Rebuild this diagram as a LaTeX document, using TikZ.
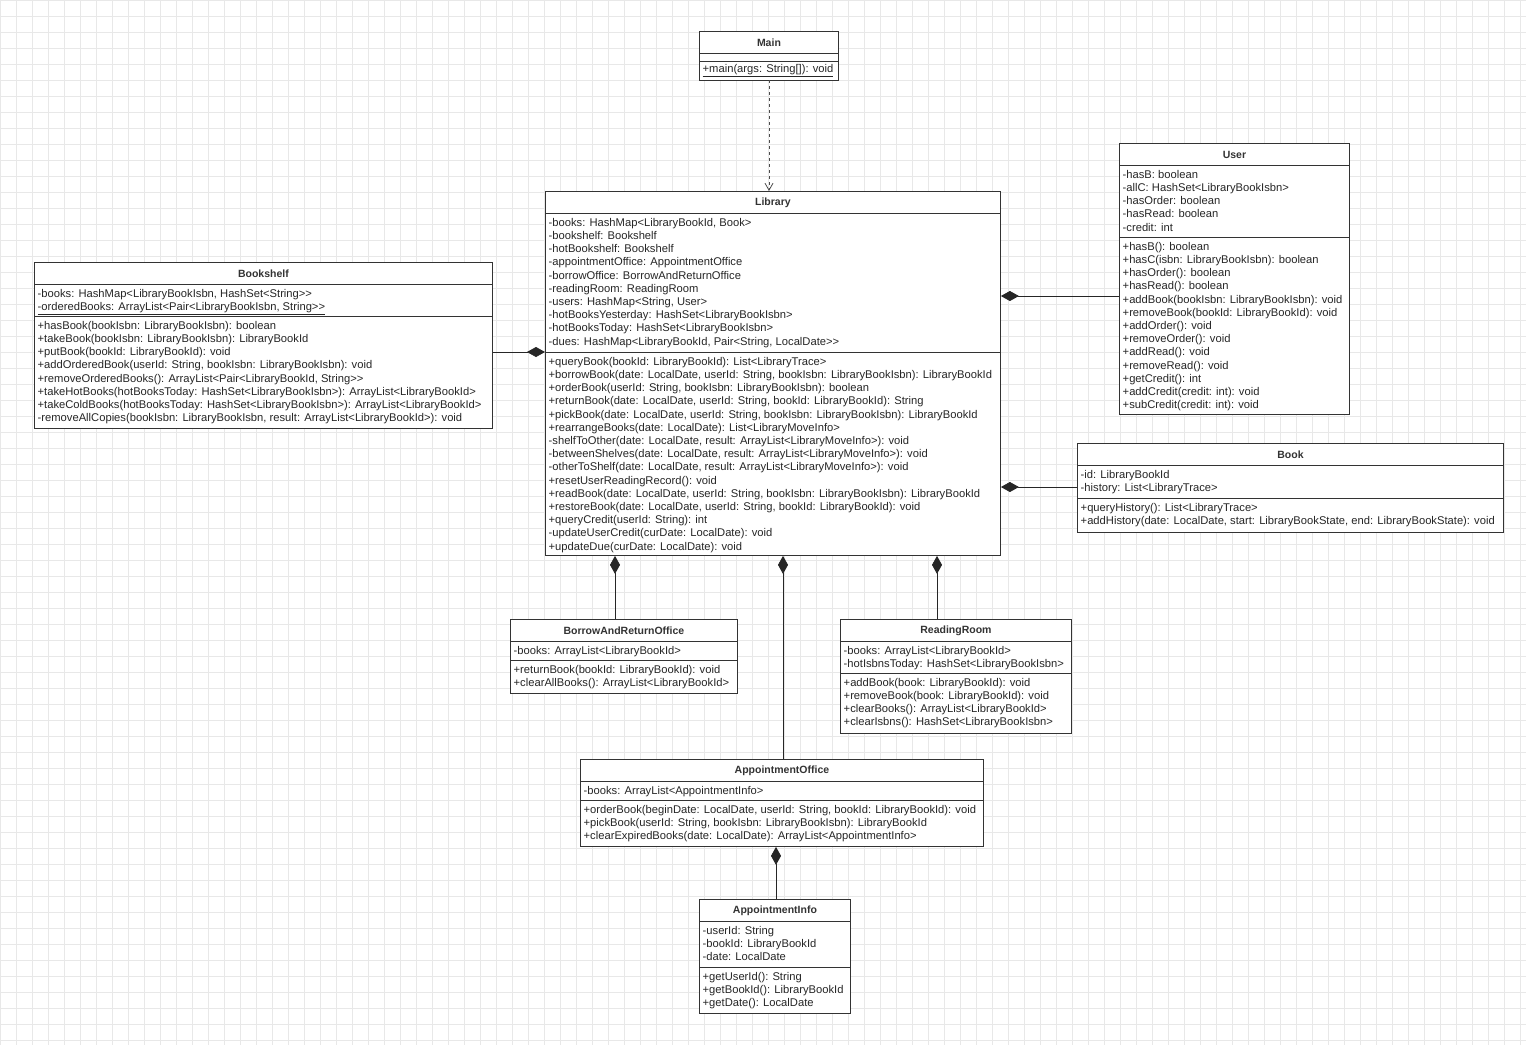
\documentclass[tikz,border=0pt]{standalone}
\usepackage{fontspec}
\setmainfont{Liberation Sans}
\usetikzlibrary{arrows.meta}
\tikzset{
  box/.style={draw=black!80,line width=0.9pt,fill=white,inner sep=0pt,anchor=north west},
  ttl/.style={font=\fontsize{10.5}{12}\selectfont\bfseries,text=black!80,anchor=center},
  txt/.style={font=\fontsize{11.2}{13.2}\selectfont,text=black!85,align=left,anchor=north west,inner xsep=3.5pt,inner ysep=5pt},
  comp/.style={draw=black!85,line width=0.8pt,{Diamond[length=18pt,width=10pt]}-},
  dep/.style={draw=black!70,line width=0.8pt,dashed,-{Straight Barb[length=7pt,width=8pt]}},
}
% name, x1, x2, ytitle, yattr, ymeth, ybottom, title
\newcommand\umlbox[8]{%
  \node[box,minimum width={#3-#2},minimum height={#5-#4}] (#1t) at (#2,#4) {};
  \node[ttl] at (#1t.center) {#8};
  \node[box,minimum width={#3-#2},minimum height={#6-#5}] (#1a) at (#2,#5) {};
  \node[box,minimum width={#3-#2},minimum height={#7-#6}] (#1m) at (#2,#6) {};
}
\newcommand\umltxt[3]{%
  \node[txt] at (#1a.north west) {#2};
  \node[txt] at (#1m.north west) {#3};
}
\begin{document}
\begin{tikzpicture}[x=1pt,y=-1pt]
\useasboundingbox (0,0) rectangle (1526,1045);
\fill[white] (0,0) rectangle (1526,1045);
\foreach \i in {0,16,...,1526} \draw[black!9] (\i,0) -- (\i,1045);
\foreach \i in {0,16,...,1045} \draw[black!9] (0,\i) -- (1526,\i);

\umlbox{main}{699}{838}{31}{53}{61}{80}{Main}
\node[txt,inner ysep=3pt] at (mainm.north west) {\underline{+main(args: String[]): void}};

\umlbox{lib}{545}{1000}{191}{213}{352}{555}{Library}
\umltxt{lib}{-books: HashMap<LibraryBookId, Book>\\-bookshelf: Bookshelf\\-hotBookshelf: Bookshelf\\-appointmentOffice: AppointmentOffice\\-borrowOffice: BorrowAndReturnOffice\\-readingRoom: ReadingRoom\\-users: HashMap<String, User>\\-hotBooksYesterday: HashSet<LibraryBookIsbn>\\-hotBooksToday: HashSet<LibraryBookIsbn>\\-dues: HashMap<LibraryBookId, Pair<String, LocalDate>{}>}{+queryBook(bookId: LibraryBookId): List<LibraryTrace>\\+borrowBook(date: LocalDate, userId: String, bookIsbn: LibraryBookIsbn): LibraryBookId\\+orderBook(userId: String, bookIsbn: LibraryBookIsbn): boolean\\+returnBook(date: LocalDate, userId: String, bookId: LibraryBookId): String\\+pickBook(date: LocalDate, userId: String, bookIsbn: LibraryBookIsbn): LibraryBookId\\+rearrangeBooks(date: LocalDate): List<LibraryMoveInfo>\\-shelfToOther(date: LocalDate, result: ArrayList<LibraryMoveInfo>): void\\-betweenShelves(date: LocalDate, result: ArrayList<LibraryMoveInfo>): void\\-otherToShelf(date: LocalDate, result: ArrayList<LibraryMoveInfo>): void\\+resetUserReadingRecord(): void\\+readBook(date: LocalDate, userId: String, bookIsbn: LibraryBookIsbn): LibraryBookId\\+restoreBook(date: LocalDate, userId: String, bookId: LibraryBookId): void\\+queryCredit(userId: String): int\\-updateUserCredit(curDate: LocalDate): void\\+updateDue(curDate: LocalDate): void}

\umlbox{user}{1119}{1349}{143}{165}{237}{414}{User}
\umltxt{user}{-hasB: boolean\\-allC: HashSet<LibraryBookIsbn>\\-hasOrder: boolean\\-hasRead: boolean\\-credit: int}{+hasB(): boolean\\+hasC(isbn: LibraryBookIsbn): boolean\\+hasOrder(): boolean\\+hasRead(): boolean\\+addBook(bookIsbn: LibraryBookIsbn): void\\+removeBook(bookId: LibraryBookId): void\\+addOrder(): void\\+removeOrder(): void\\+addRead(): void\\+removeRead(): void\\+getCredit(): int\\+addCredit(credit: int): void\\+subCredit(credit: int): void}

\umlbox{shelf}{34}{492}{262}{284}{316}{428}{Bookshelf}
\umltxt{shelf}{-books: HashMap<LibraryBookIsbn, HashSet<String>{}>\\\underline{-orderedBooks: ArrayList<Pair<LibraryBookIsbn, String>{}>}}{+hasBook(bookIsbn: LibraryBookIsbn): boolean\\+takeBook(bookIsbn: LibraryBookIsbn): LibraryBookId\\+putBook(bookId: LibraryBookId): void\\+addOrderedBook(userId: String, bookIsbn: LibraryBookIsbn): void\\+removeOrderedBooks(): ArrayList<Pair<LibraryBookId, String>{}>\\+takeHotBooks(hotBooksToday: HashSet<LibraryBookIsbn>): ArrayList<LibraryBookId>\\+takeColdBooks(hotBooksToday: HashSet<LibraryBookIsbn>): ArrayList<LibraryBookId>\\-removeAllCopies(bookIsbn: LibraryBookIsbn, result: ArrayList<LibraryBookId>): void}

\umlbox{book}{1077}{1503}{443}{465}{498}{532}{Book}
\umltxt{book}{-id: LibraryBookId\\-history: List<LibraryTrace>}{+queryHistory(): List<LibraryTrace>\\+addHistory(date: LocalDate, start: LibraryBookState, end: LibraryBookState): void}

\umlbox{bro}{510}{737}{619}{641}{660}{693}{BorrowAndReturnOffice}
\umltxt{bro}{-books: ArrayList<LibraryBookId>}{+returnBook(bookId: LibraryBookId): void\\+clearAllBooks(): ArrayList<LibraryBookId>}

\umlbox{room}{840}{1071}{619}{641}{673}{733}{ReadingRoom}
\umltxt{room}{-books: ArrayList<LibraryBookId>\\-hotIsbnsToday: HashSet<LibraryBookIsbn>}{+addBook(book: LibraryBookId): void\\+removeBook(book: LibraryBookId): void\\+clearBooks(): ArrayList<LibraryBookId>\\+clearIsbns(): HashSet<LibraryBookIsbn>}

\umlbox{ao}{580}{983}{759}{781}{800}{846}{AppointmentOffice}
\umltxt{ao}{-books: ArrayList<AppointmentInfo>}{+orderBook(beginDate: LocalDate, userId: String, bookId: LibraryBookId): void\\+pickBook(userId: String, bookIsbn: LibraryBookIsbn): LibraryBookId\\+clearExpiredBooks(date: LocalDate): ArrayList<AppointmentInfo>}

\umlbox{ai}{699}{850}{899}{921}{967}{1013}{AppointmentInfo}
\umltxt{ai}{-userId: String\\-bookId: LibraryBookId\\-date: LocalDate}{+getUserId(): String\\+getBookId(): LibraryBookId\\+getDate(): LocalDate}

\coordinate (mainS) at (769,80);
\coordinate (libN) at (769,191);
\draw[dep] (mainS) -- (libN);
\draw[comp] (libm.north east |- 0,296) -- (userm.west |- 0,296);
\draw[comp] (libm.north west) -- (shelfm.east |- libm.north west);
\draw[comp] (libm.east |- 0,487) -- (booka.west |- 0,487);
\draw[comp] (libm.south -| 615,0) -- (brot.north -| 615,0);
\draw[comp] (libm.south -| 783,0) -- (aot.north -| 783,0);
\draw[comp] (libm.south -| 937,0) -- (roomt.north -| 937,0);
\draw[comp] (aom.south -| 776,0) -- (ait.north -| 776,0);
\end{tikzpicture}
\end{document}
